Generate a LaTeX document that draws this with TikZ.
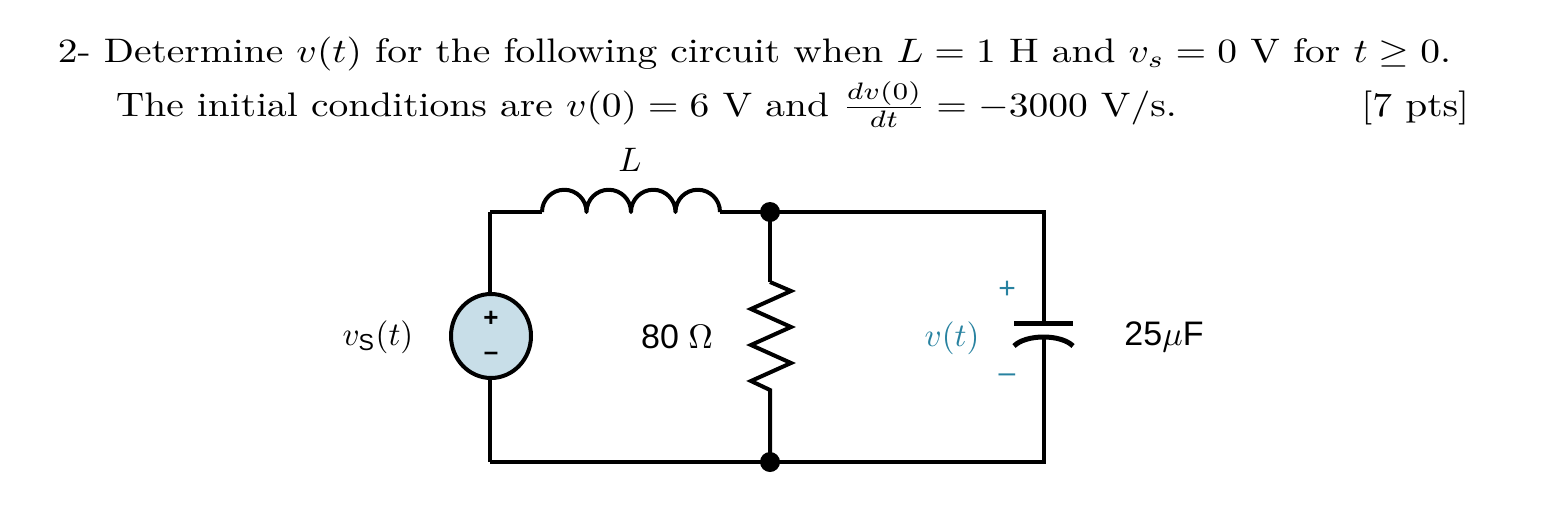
\documentclass[tikz,border=0pt]{standalone}
\usepackage{fontspec}
\usepackage{amsmath,amssymb}
\newfontfamily\circfont{Liberation Sans}
\definecolor{srcfill}{RGB}{200,222,232}
\definecolor{teal2}{RGB}{40,130,160}
\usetikzlibrary{shapes.geometric}
\begin{document}
\begin{tikzpicture}[x=1pt,y=-1pt,
  wire/.style={line width=4pt},
  lbl/.style={xscale=3.95,yscale=3.4},
  clbl/.style={font=\circfont,scale=3.4}]
\useasboundingbox (0,0) rectangle (1542,512);
% text
\node[lbl,anchor=base west,inner sep=0] (t1) at (57,62) {2- Determine $v(t)$ for the following circuit when $L=1$ H and $v_s=0$ V for $t\ge 0$.};
\node[lbl,anchor=base west,inner sep=0] (t2) at (115,116) {The initial conditions are $v(0)=6$ V and $\frac{dv(0)}{dt}=-3000$ V/s.};
\node[lbl,anchor=base east,inner sep=0] (t3) at (1470,116) {[7 pts]};
% coordinates
\coordinate (tl) at (490,212);
\coordinate (bl) at (490,462);
\coordinate (tm) at (770,212);
\coordinate (bm) at (770,462);
\coordinate (tr) at (1044,212);
\coordinate (br) at (1044,462);
\coordinate (l1) at (542,212);
\coordinate (l2) at (720,212);
\coordinate (r1) at (770,282);
\coordinate (r2) at (770,390);
\coordinate (c1) at (1044,323);
\coordinate (c2) at (1044,338);
% wires
\draw[wire] (tl) -- (l1);
\draw[wire,line join=round] (l1) \foreach \i in {0,...,3}{ arc[start angle=180,end angle=360,radius=22.25] };
\draw[wire] (l2) -- (tm) -- (tr) -- (c1);
\draw[wire] (c2) -- (br) -- (bm) -- (bl);
\draw[wire] (tl) -- (490,300);
\draw[wire] (490,372) -- (bl);
\draw[wire] (tm) -- (r1);
\draw[wire,line join=miter] (r1) -- (791,291) -- (751,309) -- (791,327) -- (751,345) -- (791,363) -- (751,381) -- (r2) -- (bm);
% capacitor
\draw[line width=5pt] (1014,323) -- (1073,323);
\draw[line width=5pt] (1014,346) .. controls (1026,334) and (1061,334) .. (1073,346);
% source
\node[draw,line width=4pt,fill=srcfill,ellipse,minimum width=80,minimum height=84,inner sep=0] (vs) at (491,336) {};
\node[font=\circfont\bfseries,scale=2.6] at (491,319) {+};
\node[font=\circfont\bfseries,scale=2.6] at (491,356) {\textendash};
% dots
\fill (tm) circle (10);
\fill (bm) circle (10);
% labels
\node[scale=3.4] at (630,160) {$L$};
\node[scale=3.3] at (378,337) {$v_{\text{\circfont S}}(t)$};
\node[clbl] at (677,337) {80 $\Omega$};
\node[clbl] at (1164,337) {25$\mu$F};
\node[scale=3.3,text=teal2] at (952,338) {$v(t)$};
\node[font=\circfont,scale=3,text=teal2] at (1007,290) {+};
\node[font=\circfont,scale=3,text=teal2] at (1007,378) {\textendash};
\end{tikzpicture}
\end{document}
